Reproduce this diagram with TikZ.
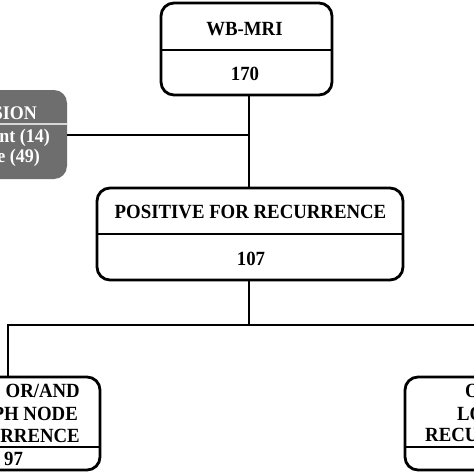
\documentclass[tikz,border=0pt]{standalone}
\usepackage{fontspec}
\setmainfont{Liberation Serif}
\definecolor{grayfill}{HTML}{6E6E6E}
\definecolor{graydiv}{HTML}{D8D8D8}
\newcommand{\tallt}[1]{\scalebox{1}[1.07]{#1}}
\begin{document}
\begin{tikzpicture}[x=1pt,y=-1pt,
  box/.style={draw=black, line width=2.8pt, rounded corners=13pt, fill=white, inner sep=0pt},
  gbox/.style={fill=grayfill, draw=none, rounded corners=13pt, inner sep=0pt},
  conn/.style={line width=2pt, draw=black},
  divline/.style={line width=2pt, draw=black},
  lab/.style={font=\fontsize{18.8}{22}\selectfont\bfseries, inner sep=0pt, text=black},
  glab/.style={font=\fontsize{18}{20}\selectfont\bfseries, inner sep=0pt, text=white}]
\useasboundingbox (0,0) rectangle (474,474);
\clip (0,0) rectangle (474,474);
\fill[white] (0,0) rectangle (474,474);

% boxes
\node[box, minimum width=171pt, minimum height=92pt] (wb) at (246.5,49) {};
\node[box, minimum width=306pt, minimum height=92pt] (po) at (250,234) {};
\node[gbox, minimum width=150pt, minimum height=89pt] (ex) at (-8,134.5) {};
\node[box, minimum width=170pt, minimum height=93pt] (lb) at (15,423.5) {};
\node[box, minimum width=170pt, minimum height=93pt] (rb) at (490,423.5) {};

% dividers
\draw[divline] ([yshift=-1pt]wb.west) -- ([yshift=-1pt]wb.east);
\draw[divline] (po.west) -- (po.east);
\draw[line width=1.5pt, graydiv] ([yshift=10.5pt]ex.west) -- ([yshift=10.5pt]ex.east);
\draw[divline] ([yshift=-23.5pt]lb.west) -- ([yshift=-23.5pt]lb.east);
\draw[divline] ([yshift=-23.5pt]rb.west) -- ([yshift=-23.5pt]rb.east);

% connectors
\coordinate (j0) at (249,0);
\coordinate (j1) at (249,325);
\coordinate (c1) at (8,325);
\coordinate (c2) at (490,325);
\draw[conn] (j0 |- wb.south) -- (j0 |- po.north);
\draw[conn] ([yshift=-0.5pt]ex.east) -- ([yshift=-0.5pt]ex.east -| j0);
\draw[conn] (j0 |- po.south) -- (j1);
\draw[conn] (c1 |- lb.north) -- (c1) -- (c2) -- (c2 |- rb.north);

% texts
\node[lab, anchor=base] (t1) at (244.5,35) {\tallt{WB-MRI}};
\node[lab, anchor=base] (t2) at (245,80.5) {\tallt{170}};
\node[lab, anchor=base] (t3) at (250.5,218) {\tallt{POSITIVE FOR RECURRENCE}};
\node[lab, anchor=base] (t4) at (251,265) {\tallt{107}};

\node[glab, anchor=base east] (g1) at (37,119) {\tallt{SION}};
\node[glab, anchor=base east] (g2) at (50,142.5) {\tallt{nt (14)}};
\node[glab, anchor=base east] (g3) at (40,162) {\tallt{e (49)}};

\node[lab, anchor=base east] (l1) at (80,397) {\tallt{OR/AND}};
\node[lab, anchor=base east] (l2) at (78,420) {\tallt{PH NODE}};
\node[lab, anchor=base east] (l3) at (80,442) {\tallt{RRENCE}};
\node[lab, anchor=base] (l4) at (13.5,465) {\tallt{97}};

\node[lab, anchor=base west] (r1) at (465,397) {\tallt{O}};
\node[lab, anchor=base west] (r2) at (457,420) {\tallt{LO}};
\node[lab, anchor=base west] (r3) at (425,441) {\tallt{RECU}};
\end{tikzpicture}
\end{document}
